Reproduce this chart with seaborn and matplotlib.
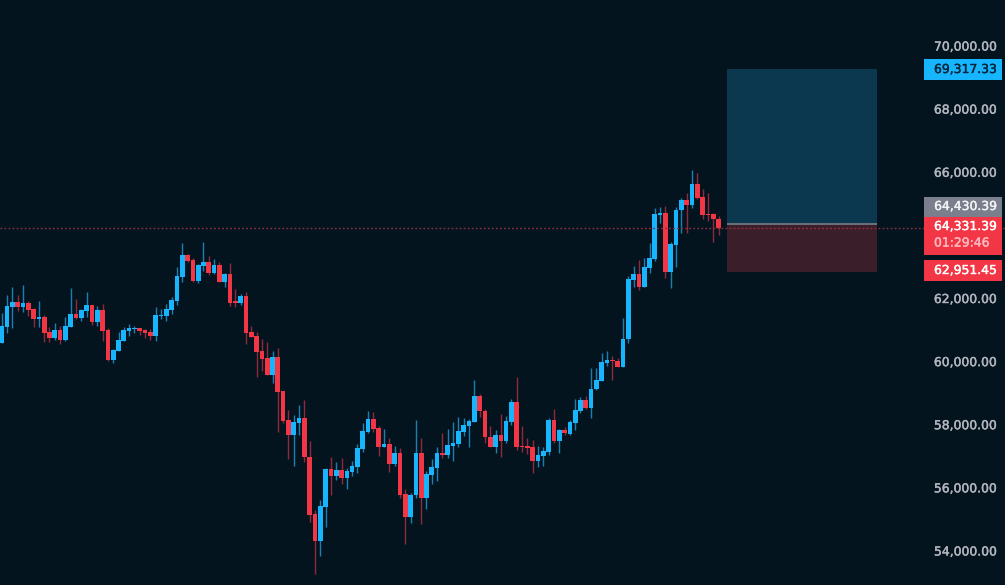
import numpy as np
import pandas as pd
import matplotlib
matplotlib.use("Agg")
import matplotlib.pyplot as plt
import matplotlib.patheffects as pe
from matplotlib.patches import Rectangle
import seaborn as sns

# candle values
opens = [60612, 61140, 61752, 61932, 61752, 61900, 61699, 61372, 61435, 60971,
         60791, 61034, 60728, 61140, 61551, 61414, 61636, 61815, 61287, 61668,
         61034, 60084, 60379, 60696, 61002, 61055, 61087, 61023, 60971, 60844,
         61488, 61488, 61668, 61963, 62724, 63421, 63252, 62597, 63061, 63188,
         62829, 63093, 62565, 62808, 61942, 61900, 62111, 60971, 60844, 60358,
         60147, 59619, 60168, 59091, 58183, 57718, 58098, 58246, 57021, 55205,
         54360, 55437, 56630, 56409, 56599, 56345, 56546, 56704, 57254, 57803,
         58214, 57929, 57338, 57422, 56778, 57137, 55838, 55099, 55796, 57137,
         55712, 56440, 56662, 57127, 57074, 57369, 57422, 57802, 57982, 58130,
         58943, 58478, 57655, 57338, 57718, 57517, 58130, 58742, 57369, 57359,
         57317, 56873, 57042, 57169, 58183, 57517, 57866, 57750, 58098, 58478,
         58806, 58563, 59154, 59418, 59999, 60083, 60052, 59851, 60738, 62607,
         62807, 62396, 62987, 63272, 64687, 64729, 62871, 63716, 64835, 65141,
         65004, 65669, 65236, 64708, 64708, 64550]
highs = [61583, 62143, 62407, 62143, 62460, 61963, 61720, 61963, 61509, 61118,
         61266, 61161, 61435, 62365, 62016, 61699, 62227, 61826, 61784, 61847,
         61087, 60422, 60971, 61118, 61224, 61161, 61108, 61066, 61066, 61752,
         61699, 61847, 62069, 63040, 63801, 63442, 63304, 63125, 63822, 63389,
         63273, 63199, 62829, 63157, 62333, 62164, 62248, 61171, 60971, 60738,
         60643, 60358, 60453, 59112, 58489, 58341, 58658, 58806, 57507, 55332,
         55648, 56662, 57021, 56852, 56968, 56662, 56873, 57433, 58098, 58457,
         58426, 57993, 57898, 57602, 57370, 57285, 55986, 55881, 58183, 57602,
         56557, 56958, 57338, 57760, 57897, 58130, 58267, 58235, 58214, 59450,
         59006, 58521, 57993, 57866, 58373, 58309, 58858, 59545, 57993, 57612,
         57549, 57369, 57317, 58246, 58521, 57887, 57950, 58183, 58837, 58901,
         58943, 59830, 59830, 60295, 60379, 60210, 60147, 61403, 62755, 63061,
         63251, 63304, 63800, 64888, 64941, 64962, 63832, 64941, 65205, 65384,
         66102, 65997, 65500, 65384, 64729, 64645]
lows = [60612, 60950, 61108, 61636, 61615, 61488, 61140, 61140, 60664, 60664,
        60717, 60590, 60696, 61118, 61382, 61319, 61435, 61192, 61161, 60696,
        60052, 60000, 60379, 60675, 60844, 60950, 60876, 60791, 60717, 60675,
        61372, 61330, 61551, 61815, 62544, 63178, 62565, 62512, 62914, 62787,
        62798, 62565, 62407, 61805, 61773, 61826, 60590, 60802, 59556, 59735,
        59619, 59365, 57803, 58077, 56937, 56736, 57718, 56852, 54951, 53315,
        53864, 54804, 55796, 56282, 56145, 55997, 56419, 56493, 57180, 57782,
        57803, 57042, 57338, 56546, 56725, 55712, 54244, 54920, 55712, 54888,
        55374, 56166, 56261, 56989, 56989, 56884, 57338, 57686, 57317, 58130,
        58278, 57464, 57317, 57137, 57021, 57464, 58014, 57232, 57179, 57105,
        56514, 56694, 56725, 57074, 57464, 57137, 57707, 57718, 57866, 58415,
        58531, 58246, 59133, 59418, 59883, 59450, 59862, 59851, 60622, 62396,
        62290, 62396, 62850, 63219, 64413, 62691, 62364, 63040, 64096, 64117,
        64909, 65183, 64539, 64497, 63832, 64032]
closes = [61161, 61784, 61932, 61752, 61900, 61668, 61382, 61435, 60950, 60791,
          61034, 60728, 61161, 61551, 61404, 61668, 61826, 61287, 61668, 61002,
          60084, 60411, 60728, 61023, 61087, 61087, 61002, 60939, 60844, 61520,
          61520, 61699, 61984, 62745, 63421, 63209, 62597, 63104, 63188, 62829,
          63083, 62565, 62808, 61900, 61900, 62111, 60939, 60823, 60326, 60115,
          59619, 60168, 59070, 58151, 57718, 58119, 58246, 57000, 55173, 54360,
          55469, 56630, 56409, 56599, 56345, 56578, 56726, 57285, 57834, 58214,
          57898, 57338, 57422, 56789, 57137, 55817, 55099, 55817, 57137, 55712,
          56472, 56694, 57137, 57074, 57391, 57454, 57834, 58014, 58151, 58943,
          58457, 57633, 57338, 57718, 57517, 58151, 58742, 57338, 57338, 57285,
          56873, 57074, 57190, 58183, 57507, 57866, 57760, 58130, 58510, 58806,
          58563, 59175, 59439, 60020, 60083, 60052, 59862, 60748, 62639, 62807,
          62396, 63019, 63304, 64708, 64729, 62871, 63747, 64846, 65141, 65004,
          65669, 65215, 64687, 64677, 64539, 64275]

# 64,000 is hidden behind the price labels in the reference
tick_prices = [70000, 68000, 66000, 62000, 60000, 58000, 56000, 54000]
target_price = 69317.33
entry_price = 64430.39
stop_price = 62951.45

BG = "#04141f"
UP = "#18b5ff"
DOWN = "#f23645"
W, H = 1005, 585

sns.set_theme(style="dark", rc={"axes.facecolor": BG, "figure.facecolor": BG})
plt.rcParams["font.family"] = ["DejaVu Sans"]

df = pd.DataFrame({"open": opens, "high": highs, "low": lows, "close": closes})
df["i"] = np.arange(len(df))
df["side"] = np.where(df["close"] >= df["open"], "up", "down")
df["body_low"] = df[["open", "close"]].min(axis=1)
df["body"] = (df["open"] - df["close"]).abs().clip(lower=25)

fig = plt.figure(figsize=(W / 100, H / 100), dpi=100)
ax = fig.add_axes([0, 0, 1, 1])

# wicks first, dimmer than the bodies
wick_colors = df["side"].map({"up": "#1a7fb2", "down": "#8f2a3c"})
ax.vlines(df["i"], df["low"], df["high"], colors=wick_colors, lw=1.0, zorder=2)

for side, color in [("up", UP), ("down", DOWN)]:
    part = df[df["side"] == side]
    sns.barplot(data=part, x="i", y="body", color=color, bottom=part["body_low"].to_numpy(),
                native_scale=True, width=0.88, saturation=1, linewidth=0, ax=ax, zorder=3, errorbar=None)

ax.set_xlim(-1.7 / 5.31, (W - 1.7) / 5.31)
ax.set_ylim(71488 - H * 31.68, 71488)
ax.set_xlabel("")
ax.set_ylabel("")
ax.set_xticks([])
ax.set_yticks([])
ax.grid(False)
for s in ax.spines.values():
    s.set_visible(False)

# long position tool, the drawn edges sit a touch under the printed prices
x0, x1 = (727 - 1.7) / 5.31, (877 - 1.7) / 5.31
entry_edge = entry_price - 30
stop_edge = stop_price - 70
ax.add_patch(Rectangle((x0, entry_edge), x1 - x0, target_price - entry_edge, fc="#0b384f", ec="none", zorder=1))
ax.add_patch(Rectangle((x0, stop_edge), x1 - x0, entry_edge - stop_edge, fc="#3a1f2b", ec="none", zorder=1))
ax.plot([x0, x1], [entry_edge, entry_edge], color="#737880", lw=1.3, zorder=4, solid_capstyle="butt")

# last price line
ax.axhline(closes[-1], color="#8a2e40", lw=1, ls=(0, (1.3, 1.6)), zorder=4)


def label_box(y0, y1, color):
    fig.add_artist(Rectangle((924 / W, 1 - y1 / H), 78 / W, (y1 - y0) / H, fc=color, ec="none",
                             transform=fig.transFigure, zorder=6))


def label_text(y, s, color, x=997, ha="right", size=8.9):
    fig.text(x / W, 1 - y / H, s, color=color, fontsize=size, ha=ha, va="center", zorder=7,
             path_effects=[pe.withStroke(linewidth=0.3, foreground=color)])


for p in tick_prices:
    label_y = 299.5 - (p - 62000) * 0.03156
    label_text(label_y, f"{p:,.2f}", "#b2b5be")

label_box(59, 80, UP)
label_box(197, 217, "#7b7e8c")
label_box(217, 255, DOWN)
label_box(260, 281, DOWN)

label_text(69.5, f"{target_price:,.2f}", "#06283a")
label_text(206.5, f"{entry_price:,.2f}", "#f2f3f5")
label_text(226.5, "64,331.39", "#ffffff")
label_text(243, "01:29:46", "#ffb6bd", x=934, ha="left")
label_text(270.5, f"{stop_price:,.2f}", "#ffffff")

fig.savefig("out.png", dpi=100, facecolor=BG)
